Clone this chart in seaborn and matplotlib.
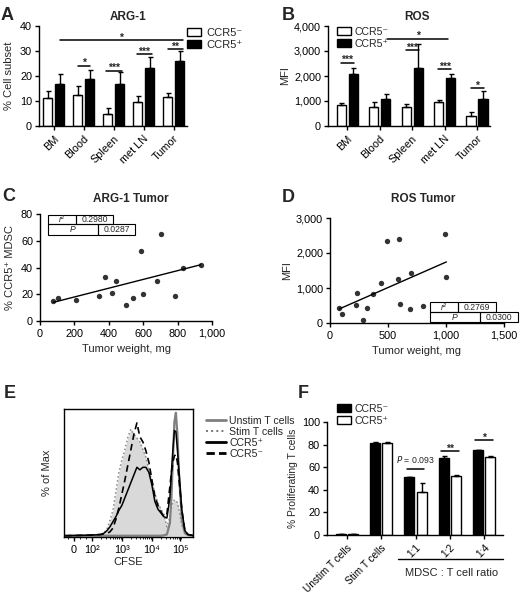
import numpy as np
import pandas as pd
import matplotlib
matplotlib.use('Agg')
import matplotlib.pyplot as plt
from matplotlib.patches import Patch, Rectangle
from matplotlib.lines import Line2D
from matplotlib.ticker import FuncFormatter
import seaborn as sns

W, H = 520, 594

# ---- A: ARG-1 by organ ----
organs = ['BM', 'Blood', 'Spleen', 'met LN', 'Tumor']
arg_neg = [11.3, 12.3, 4.9, 9.7, 11.6]
arg_neg_err = [2.8, 3.7, 2.2, 2.3, 1.7]
arg_pos = [16.8, 18.8, 16.7, 23.1, 25.9]
arg_pos_err = [3.9, 3.6, 5.0, 4.4, 4.1]

# ---- B: ROS by organ ----
ros_neg = [830, 780, 780, 970, 420]
ros_neg_err = [80, 190, 100, 60, 130]
ros_pos = [2100, 1090, 2340, 1910, 1090]
ros_pos_err = [210, 180, 960, 170, 330]

# ---- C: ARG-1 tumor vs weight ----
arg_weight = [78, 107, 209, 345, 378, 419, 440, 500, 541, 589, 601, 682, 703, 783, 833, 934]
arg_ccr5 = [14.8, 17.5, 16.0, 19.0, 33.0, 21.0, 30.0, 12.0, 17.3, 52.5, 20.5, 30.0, 65.0, 19.0, 40.0, 42.0]
arg_r2, arg_p = 0.2980, 0.0287

# ---- D: ROS tumor vs weight ----
ros_weight = [81, 104, 225, 234, 286, 315, 367, 436, 494, 584, 598, 607, 688, 699, 798, 991, 1003]
ros_mfi = [434, 264, 528, 858, 75, 415, 830, 1132, 2355, 1264, 2400, 547, 396, 1415, 472, 2530, 1320]
ros_r2, ros_p = 0.2769, 0.0300

# ---- E: CFSE histograms (x in decades of the display scale) ----
cfse_u = [1.1, 2.0, 2.3, 2.4, 2.5, 2.6, 2.7, 2.8, 2.9, 3.0, 3.1, 3.2, 3.3, 3.4, 3.5, 3.6, 3.7, 3.8,
          3.9, 4.0, 4.1, 4.2, 4.3, 4.4, 4.5, 4.6, 4.65, 4.7, 4.75, 4.8, 4.85, 4.9, 5.0, 5.1, 5.2, 5.4]
unstim = [0, 0, 0, 0, 0, 0, 0, 0, 0, 0, 0, 0, 0, 0, 0, 0, 0, 0,
          0, 0, 0, 0, 0, 0.3, 1, 10, 30, 60, 90, 97, 80, 50, 12, 2, 0.5, 0]
stim = [0, 0.5, 1, 2, 5, 12, 20, 35, 50, 60, 68, 78, 84, 80, 77, 74, 68, 62,
        52, 43, 33, 26, 21, 17, 7, 15, 22, 27, 28, 28, 26, 21, 8, 2, 0.5, 0]
ccr5_pos_hist = [0, 0.5, 1, 2, 4, 7, 11, 15, 20, 24, 30, 36, 42, 48, 54, 52, 54, 54,
                 50, 40, 27, 21, 18, 15, 14, 30, 50, 68, 83, 82, 68, 52, 20, 4, 1, 0]
ccr5_neg_hist = [0, 0.5, 1, 1.5, 2, 3, 6, 13, 22, 33, 44, 56, 68, 80, 89, 78, 74, 67,
                 58, 44, 31, 24, 19, 15, 17, 39, 50, 58, 63, 64, 58, 45, 20, 4, 1, 0]
cfse_ticks = [1.4, 2, 3, 4, 4.95]
cfse_labels = ['0', '10²', '10³', '10⁴', '10⁵']

# ---- F: proliferation ----
f_groups = ['Unstim T cells', 'Stim T cells', '1:1', '1:2', '1:4']
f_neg = [1.0, 81.5, 51.3, 68.2, 74.8]
f_neg_err = [0.3, 0.8, 0.4, 2.0, 0.5]
f_pos = [1.0, 81.5, 37.7, 52.5, 69.1]
f_pos_err = [0.3, 0.8, 8.3, 0.7, 0.8]
f_pval = 0.093

NEG, POS = 'CCR5⁻', 'CCR5⁺'

sns.set_style('ticks')
plt.rcParams['font.family'] = ['Liberation Sans', 'DejaVu Sans']
plt.rcParams['axes.linewidth'] = 1.0
plt.rcParams['xtick.major.width'] = 1.0
plt.rcParams['ytick.major.width'] = 1.0
plt.rcParams['xtick.major.size'] = 3
plt.rcParams['ytick.major.size'] = 3
plt.rcParams['xtick.major.pad'] = 2.5
plt.rcParams['ytick.major.pad'] = 2
plt.rcParams['xtick.labelsize'] = 7.8
plt.rcParams['ytick.labelsize'] = 7.8
plt.rcParams['axes.labelsize'] = 8
plt.rcParams['xtick.color'] = 'black'
plt.rcParams['ytick.color'] = 'black'
plt.rcParams['axes.edgecolor'] = 'black'

fig = plt.figure(figsize=(W / 100, H / 100), dpi=100)
fig.patch.set_facecolor('white')


def px_axes(left, top, right, bottom):
    return fig.add_axes([left / W, 1 - bottom / H, (right - left) / W, (bottom - top) / H])


def ftext(x, y, s, **kw):
    fig.text(x / W, 1 - y / H, s, **kw)


def comma(v, pos):
    return f'{int(v):,}'


def bar_panel(ax, cats, neg, neg_err, pos, pos_err, order, colors, width, gap):
    df = pd.DataFrame({
        'cat': cats + cats,
        'grp': [NEG] * len(cats) + [POS] * len(cats),
        'val': neg + pos,
    })
    errs = {NEG: neg_err, POS: pos_err}
    sns.barplot(data=df, x='cat', y='val', hue='grp', hue_order=order, palette=colors,
                width=width, gap=gap, edgecolor='black', linewidth=1, saturation=1,
                errorbar=None, legend=False, ax=ax)
    for p in ax.patches:
        cx = p.get_x() + p.get_width() / 2
        i = int(round(cx))
        grp = order[0] if cx < i else order[1]
        ax.errorbar(cx, p.get_height(), yerr=[[0], [errs[grp][i]]], color='black',
                    lw=1, capsize=1.8, capthick=1, zorder=1)
    ax.set_xlabel('')
    sns.despine(ax=ax)


def sig(ax, x0, x1, y, label, off=-0.3, fs=7.5):
    ax.plot([x0, x1], [y, y], color='black', lw=1.1, clip_on=False)
    if label:
        ax.annotate(label, xy=((x0 + x1) / 2, y), xytext=(0, off), textcoords='offset points',
                    ha='center', va='baseline', fontsize=fs, weight='bold', annotation_clip=False)


def bar_legend(ax, order, colors, x, y, fs=8):
    handles = [Patch(facecolor=colors[k], edgecolor='black', lw=1) for k in order]
    ax.legend(handles, order, loc='upper left', bbox_to_anchor=(x / W, 1 - y / H),
              bbox_transform=fig.transFigure, frameon=False, fontsize=fs,
              handlelength=1.3, handleheight=0.75, handletextpad=0.4, labelspacing=0.15,
              borderpad=0, borderaxespad=0)


def stat_box(x0, xm, x1, y0, y1, name, value):
    for a, b, t, st in [(x0, xm, name, 'italic'), (xm, x1, value, 'normal')]:
        fig.add_artist(Rectangle((a / W, 1 - y1 / H), (b - a) / W, (y1 - y0) / H,
                                 transform=fig.transFigure, fill=False, lw=0.8, ec='black'))
        ftext((a + b) / 2, (y0 + y1) / 2 + 0.5, t, ha='center', va='center', fontsize=6.2, style=st)


bar_colors = {NEG: 'white', POS: 'black'}

# ---- A ----
axA = px_axes(39, 26, 187, 126)
bar_panel(axA, organs, arg_neg, arg_neg_err, arg_pos, arg_pos_err, [NEG, POS], bar_colors, 0.8, 0.25)
axA.set_xlim(-0.5, 4.45)
axA.set_ylim(0, 40)
axA.set_yticks([0, 10, 20, 30, 40])
axA.set_ylabel('% Cell subset', labelpad=4)
axA.set_xticks(range(5))
axA.set_xticklabels(organs, rotation=45, ha='right', rotation_mode='anchor')
sig(axA, 0.8, 1.2, 24.1, '*')
sig(axA, 1.73, 2.27, 22.1, '***')
sig(axA, 2.78, 3.27, 28.7, '***')
sig(axA, 3.8, 4.3, 30.8, '**')
sig(axA, 0.19, 4.31, 34.4, '*')
bar_legend(axA, [NEG, POS], bar_colors, 187, 28)

# ---- B ----
axB = px_axes(328, 26, 490, 126)
bar_panel(axB, organs, ros_neg, ros_neg_err, ros_pos, ros_pos_err, [NEG, POS], bar_colors, 0.74, 0.24)
axB.set_xlim(-0.59, 4.4)
axB.set_ylim(0, 4000)
axB.set_yticks([0, 1000, 2000, 3000, 4000])
axB.yaxis.set_major_formatter(FuncFormatter(comma))
axB.set_ylabel('MFI', labelpad=3)
axB.set_xticks(range(5))
axB.set_xticklabels(organs, rotation=45, ha='right', rotation_mode='anchor')
sig(axB, -0.2, 0.2, 2530, '***')
sig(axB, 1.8, 2.2, 3040, '***')
sig(axB, 2.8, 3.2, 2270, '***')
sig(axB, 3.8, 4.2, 1510, '*')
sig(axB, 1.22, 3.12, 3500, '*')
bar_legend(axB, [NEG, POS], bar_colors, 337, 27, fs=7.6)

# ---- C ----
axC = px_axes(40, 214, 212, 321)
sns.regplot(x=arg_weight, y=arg_ccr5, ci=None, ax=axC, color='black',
            scatter_kws={'s': 15, 'linewidths': 0}, line_kws={'lw': 1})
axC.set_xlim(0, 1000)
axC.set_ylim(0, 80)
axC.set_xticks([0, 200, 400, 600, 800, 1000])
axC.set_yticks([0, 20, 40, 60, 80])
axC.xaxis.set_major_formatter(FuncFormatter(comma))
axC.set_xlabel('Tumor weight, mg')
axC.set_ylabel('% CCR5⁺ MDSC', labelpad=4)
sns.despine(ax=axC)
stat_box(48, 76, 113, 215, 224, 'r²', f'{arg_r2:.4f}')
stat_box(48, 98, 135, 224, 235, 'P', f'{arg_p:.4f}')

# ---- D ----
axD = px_axes(330, 218, 504, 323)
sns.regplot(x=ros_weight, y=ros_mfi, ci=None, ax=axD, color='black',
            scatter_kws={'s': 15, 'linewidths': 0}, line_kws={'lw': 1})
axD.set_xlim(0, 1500)
axD.set_ylim(0, 3000)
axD.set_xticks([0, 500, 1000, 1500])
axD.set_yticks([0, 1000, 2000, 3000])
axD.xaxis.set_major_formatter(FuncFormatter(comma))
axD.yaxis.set_major_formatter(FuncFormatter(comma))
axD.set_xlabel('Tumor weight, mg')
axD.set_ylabel('MFI', labelpad=3)
sns.despine(ax=axD)
stat_box(430, 458, 496, 302, 312, 'r²', f'{ros_r2:.4f}')
stat_box(430, 480, 518, 312, 322, 'P', f'{ros_p:.4f}')

# ---- E ----
axE = px_axes(64, 409, 193, 537)
axE.fill_between(cfse_u, stim, color='#d9d9d9', lw=0)
sns.lineplot(x=cfse_u, y=stim, ax=axE, color='#8a8a8a', linestyle=':', lw=1.1)
sns.lineplot(x=cfse_u, y=unstim, ax=axE, color='#808080', lw=1.6)
sns.lineplot(x=cfse_u, y=ccr5_pos_hist, ax=axE, color='black', lw=1.1)
sns.lineplot(x=cfse_u, y=ccr5_neg_hist, ax=axE, color='black', lw=1.2, linestyle=(0, (4, 2.5)))
axE.set_xlim(1.07, 5.37)
axE.set_ylim(-1, 100)
axE.set_yticks([])
axE.set_xticks(cfse_ticks)
axE.set_xticklabels(cfse_labels)
minor = [d + np.log10(k) for d in (2, 3, 4) for k in range(2, 10)] + [1.2, 1.6, 1.8]
axE.set_xticks(minor, minor=True)
axE.tick_params(axis='x', which='minor', length=1.5, width=0.6)
axE.set_xlabel('CFSE', labelpad=2)
axE.set_ylabel('% of Max', labelpad=9)
leg_handles = [Line2D([], [], color='#808080', lw=2),
               Line2D([], [], color='#777777', lw=1.4, linestyle=':'),
               Line2D([], [], color='black', lw=2),
               Line2D([], [], color='black', lw=2, linestyle=(0, (3, 1.5)))]
axE.legend(leg_handles, ['Unstim T cells', 'Stim T cells', 'CCR5⁺', 'CCR5⁻'],
           loc='upper left', bbox_to_anchor=(206 / W, 1 - 416 / H), bbox_transform=fig.transFigure,
           frameon=False, fontsize=7.6, handlelength=1.9, handletextpad=0.3, labelspacing=0.1,
           borderpad=0, borderaxespad=0)

# ---- F ----
f_colors = {NEG: 'black', POS: 'white'}
axF = px_axes(327, 422, 503, 535)
bar_panel(axF, f_groups, f_neg, f_neg_err, f_pos, f_pos_err, [NEG, POS], f_colors, 0.73, 0.2)
axF.set_xlim(-0.58, 4.55)
axF.set_ylim(0, 100)
axF.set_yticks([0, 20, 40, 60, 80, 100])
axF.set_ylabel('% Proliferating T cells', labelpad=3, fontsize=7.4)
axF.set_xticks(range(5))
axF.set_xticklabels(f_groups, rotation=45, ha='right', rotation_mode='anchor', fontsize=7.2)
sig(axF, 1.74, 2.26, 58.5, '')
axF.annotate(f'$P$ = {f_pval}', xy=(2, 58.5), xytext=(0, 3), textcoords='offset points',
             ha='center', va='bottom', fontsize=6.3)
sig(axF, 2.74, 3.26, 74.2, '**')
sig(axF, 3.74, 4.26, 83.7, '*')
bar_legend(axF, [NEG, POS], f_colors, 337, 404, fs=7.6)
fig.add_artist(Line2D([398 / W, 503 / W], [1 - 559 / H, 1 - 559 / H], color='black', lw=1,
                      transform=fig.transFigure))
ftext(452, 573, 'MDSC : T cell ratio', ha='center', va='center', fontsize=8)

# ---- titles and panel letters ----
ftext(128, 17, 'ARG-1', ha='center', va='center', fontsize=8.5, weight='bold')
ftext(417, 17, 'ROS', ha='center', va='center', fontsize=8.5, weight='bold')
ftext(131, 199, 'ARG-1 Tumor', ha='center', va='center', fontsize=8.5, weight='bold')
ftext(423, 199, 'ROS Tumor', ha='center', va='center', fontsize=8.5, weight='bold')
for letter, x, y in [('A', 7, 15), ('B', 288, 15), ('C', 9, 196),
                     ('D', 288, 198), ('E', 10, 393), ('F', 303, 393)]:
    ftext(x, y, letter, ha='center', va='center', fontsize=13, weight='bold')

fig.savefig('out.png', dpi=100, facecolor='white')
